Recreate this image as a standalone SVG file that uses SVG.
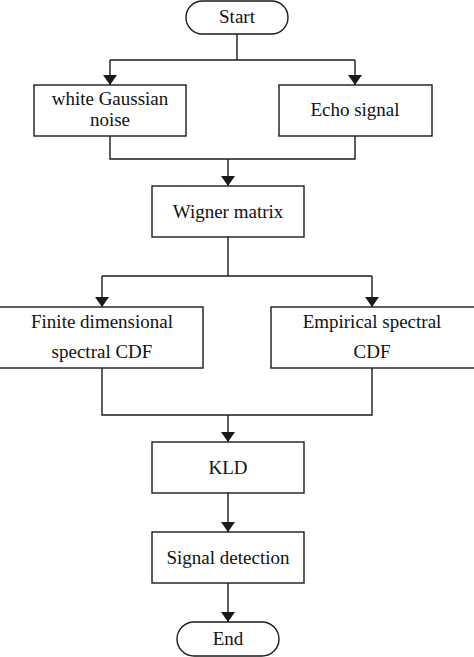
<svg xmlns="http://www.w3.org/2000/svg" width="474" height="657" viewBox="0 0 474 657">
<style>
.box{fill:#fff;stroke:#1a1a1a;stroke-width:1.4}
.ln{fill:none;stroke:#1a1a1a;stroke-width:1.4}
text{font-family:"Liberation Serif","DejaVu Serif",serif;font-size:19px;fill:#111;text-anchor:middle}
</style>
<defs>
<marker id="ah" viewBox="0 0 10 14" refX="10" refY="7" markerWidth="10" markerHeight="14" markerUnits="userSpaceOnUse" orient="auto">
<path d="M0,0 L10,7 L0,14 Z" fill="#1a1a1a"/>
</marker>
</defs>
<rect width="474" height="657" fill="#fff"/>
<g id="connectors">
<path class="ln" d="M237,34 V60"/>
<path class="ln" d="M110,60 H355"/>
<path class="ln" d="M110,60 V85" marker-end="url(#ah)"/>
<path class="ln" d="M355,60 V85" marker-end="url(#ah)"/>
<path class="ln" d="M110,136 V159 H355 V136"/>
<path class="ln" d="M228,159 V186" marker-end="url(#ah)"/>
<path class="ln" d="M228,237 V276"/>
<path class="ln" d="M102,276 H372"/>
<path class="ln" d="M102,276 V307" marker-end="url(#ah)"/>
<path class="ln" d="M372,276 V307" marker-end="url(#ah)"/>
<path class="ln" d="M102,368 V415 H372 V368"/>
<path class="ln" d="M228,415 V442" marker-end="url(#ah)"/>
<path class="ln" d="M228,493 V532" marker-end="url(#ah)"/>
<path class="ln" d="M228,583 V622" marker-end="url(#ah)"/>
</g>
<g id="start">
<rect class="box" x="186" y="1" width="102" height="33" rx="16.5"/>
<text x="237" y="23">Start</text>
</g>
<g id="noise">
<rect class="box" x="34" y="85" width="152" height="51"/>
<text x="110" y="105">white Gaussian</text>
<text x="110" y="126">noise</text>
</g>
<g id="echo">
<rect class="box" x="279" y="85" width="153" height="51"/>
<text x="355" y="116">Echo signal</text>
</g>
<g id="wigner">
<rect class="box" x="152" y="186" width="152" height="51"/>
<text x="228" y="218">Wigner matrix</text>
</g>
<g id="finite">
<rect class="box" x="-1" y="307" width="204" height="61"/>
<text x="102" y="328">Finite dimensional</text>
<text x="102" y="358">spectral CDF</text>
</g>
<g id="empirical">
<rect class="box" x="271" y="307" width="204" height="61"/>
<text x="372" y="328">Empirical spectral</text>
<text x="372" y="358">CDF</text>
</g>
<g id="kld">
<rect class="box" x="152" y="442" width="152" height="51"/>
<text x="228" y="474">KLD</text>
</g>
<g id="detection">
<rect class="box" x="152" y="532" width="152" height="51"/>
<text x="228" y="564">Signal detection</text>
</g>
<g id="end">
<rect class="box" x="177" y="622" width="102" height="34" rx="17"/>
<text x="228" y="645">End</text>
</g>
</svg>
